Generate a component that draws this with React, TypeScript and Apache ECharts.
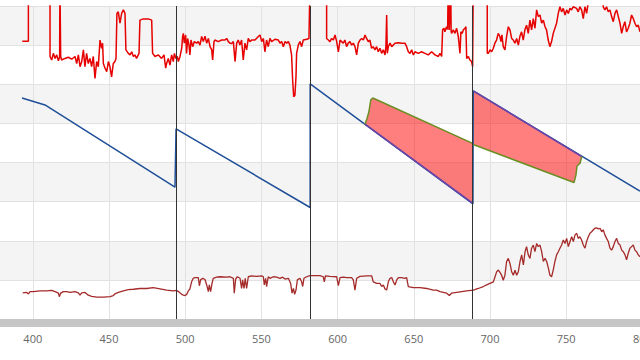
import React, { useEffect, useRef } from "react";
import * as echarts from "echarts";

const X_MIN = 350;
const X_MAX = 800;
const X_STEP = 50;
const MARKERS = [494.0, 581.9, 688.6];

const RED: number[][] = [
  [393.1,7.10],[397.1,7.10],[397.1,8.6],[411.3,8.6],[411.3,6.71],[412.4,6.62],[413.5,6.79],[414.6,6.66],[415.7,6.75],[416.8,6.60],[417.6,6.70],[417.8,8.6],[418.3,6.71],[418.9,6.62],[421.1,6.66],[423.3,6.69],[425.5,6.64],[427.7,6.71],[428.8,6.53],[429.9,6.75],[431.0,6.45],[432.1,6.58],[433.2,6.88],[434.2,6.45],[435.3,6.79],[436.4,6.53],[437.5,6.66],[438.6,6.45],[439.7,6.71],[440.8,6.15],[441.9,6.58],[443.0,6.45],[444.1,7.13],[445.2,6.92],[445.8,7.05],[446.3,6.53],[447.4,6.41],[448.5,6.32],[449.6,6.58],[450.6,6.45],[451.7,6.19],[452.8,6.53],[453.9,6.58],[454.6,6.66],[455.2,7.81],[456.1,7.85],[457.2,7.56],[458.3,7.81],[459.4,7.90],[460.5,7.81],[461.1,6.88],[462.7,6.79],[463.8,6.75],[464.9,6.83],[466.0,6.71],[467.0,6.75],[468.1,6.66],[469.7,6.79],[470.3,7.64],[472.5,7.67],[475.8,7.67],[478.0,7.64],[478.6,6.79],[480.2,6.71],[482.4,6.75],[484.5,6.66],[486.1,6.75],[487.2,6.41],[487.8,6.53],[488.9,6.66],[490.0,6.49],[491.1,6.75],[492.2,6.58],[492.9,6.79],[493.9,6.66],[494.8,6.71],[495.5,6.58],[496.6,6.71],[497.7,6.92],[498.3,7.22],[498.8,7.30],[499.4,7.05],[500.3,7.26],[500.9,6.79],[501.6,7.17],[502.5,7.00],[503.1,6.75],[503.8,7.13],[504.9,6.96],[506.0,7.09],[507.5,7.05],[508.6,7.09],[509.7,7.00],[510.8,7.22],[511.9,7.09],[513.0,7.23],[514.1,7.05],[515.2,7.17],[516.3,6.96],[517.4,6.88],[518.0,6.62],[518.9,7.09],[519.5,7.13],[521.7,7.09],[523.9,7.13],[526.1,7.13],[527.2,7.17],[528.3,7.09],[529.4,7.05],
  [530.5,7.04],[531.6,7.09],[532.7,6.58],[533.8,7.05],[534.8,7.13],[535.9,7.00],[537.0,7.13],[538.1,6.62],[539.2,7.05],[540.3,6.88],[541.4,7.17],[542.5,7.09],[543.6,7.13],[545.8,7.13],[548.0,7.22],[549.1,7.26],[550.2,7.09],[551.3,7.17],[552.3,6.83],[553.4,7.13],[554.5,6.96],[555.6,7.17],[556.7,7.09],[558.9,7.15],[561.1,7.13],[562.2,7.05],[563.3,7.09],[564.4,6.96],[565.5,7.09],[566.6,7.05],[567.7,7.09],[568.7,7.00],[569.8,6.75],[570.5,6.11],[571.2,5.68],[572.0,5.72],[572.7,6.19],[573.1,6.79],[574.2,7.00],[575.3,7.09],[576.4,6.96],[577.5,7.13],[579.7,7.15],[581.2,7.17],[581.9,8.6],[592.8,8.6],[592.8,7.17],[593.9,7.13],[595.0,7.09],[596.1,7.17],[597.2,7.13],[598.3,7.26],[599.4,7.09],[600.5,6.83],[601.6,7.13],[602.6,7.09],[603.7,7.05],[604.8,7.13],[605.9,6.96],[607.0,7.05],[608.1,7.09],[609.2,7.00],[610.3,7.05],[611.4,6.96],[612.5,6.75],[613.6,7.05],[614.7,7.13],[615.8,7.17],[616.9,7.13],[618.0,7.26],[619.0,7.17],[620.1,7.09],[621.2,7.13],[622.3,6.92],[623.4,6.96],[624.5,6.88],[625.6,6.96],[626.7,6.83],[627.8,6.92],[628.9,6.79],[630.0,6.88],[631.1,6.75],[631.7,6.96],[632.2,7.77],[632.6,6.79],[633.3,6.96],[634.4,7.05],[635.5,6.96],[636.5,7.00],[637.6,7.05],[639.8,7.06],[642.0,7.05],[644.2,7.05],[645.3,6.96],[646.4,6.83],[647.5,6.79],[648.6,6.88],[649.7,6.75],[650.8,6.83],[652.9,6.79],[655.1,6.83],[657.3,6.79],[659.5,6.75],[661.7,6.83],[663.9,6.75],[666.1,6.71],[667.2,6.79],
  [668.3,6.71],[668.9,7.39],[669.8,7.43],[670.4,7.34],[671.5,7.47],[672.2,7.40],[672.6,8.6],[673.3,7.39],[673.7,7.39],[674.2,8.6],[674.5,7.35],[674.8,7.30],[675.9,7.39],[677.0,7.30],[678.1,7.43],[679.2,7.22],[680.3,6.79],[680.9,7.34],[681.8,7.30],[682.5,7.39],[683.6,7.43],[684.2,7.47],[684.7,6.66],[685.8,6.71],[686.8,6.62],[687.9,6.58],[688.6,6.45],[689.0,8.6],[698.2,8.6],[698.2,6.79],[698.9,6.79],[700.0,6.88],[701.1,6.83],[702.2,6.92],[703.2,7.05],[704.3,7.13],[705.4,7.30],[706.5,7.22],[707.2,7.09],[707.8,7.26],[708.7,6.96],[709.8,6.88],[710.9,7.22],[712.0,7.47],[713.1,7.39],[714.2,7.17],[715.3,7.13],[716.4,7.05],[717.5,7.17],[718.6,7.00],[719.6,7.22],[720.7,7.34],[721.8,7.13],[722.9,7.39],[724.0,7.51],[725.1,7.30],[726.2,7.64],[727.3,7.39],[728.4,7.68],[729.5,7.43],[730.6,7.90],[731.7,7.73],[732.8,7.77],[733.9,7.56],[735.0,7.64],[736.1,7.47],[737.1,7.39],[738.2,7.13],[739.3,6.96],[740.4,7.09],[741.5,7.30],[742.6,7.43],[743.7,7.56],[744.8,7.81],[745.9,7.98],[747.0,7.85],[748.1,7.94],[749.2,7.77],[750.3,7.90],[751.4,7.81],[752.5,7.94],[753.5,7.90],[754.6,7.98],[756.8,7.94],[757.9,7.85],[759.0,7.98],[760.1,7.90],[761.2,7.68],[762.3,7.98],[763.4,7.81],[764.5,8.10],[765.6,8.6],[774.3,8.6],[774.3,7.98],[775.4,7.90],[776.5,7.98],[777.6,7.85],[778.7,7.90],[779.8,7.73],[780.9,7.60],[782.0,7.81],[783.1,7.90],[784.2,7.73],[785.3,7.56],[786.4,7.30],[787.4,7.47],[788.5,7.60],[789.6,7.34],[790.7,7.43],[791.8,7.56],[792.9,7.77],[794.0,7.68],[795.1,7.56],[796.2,7.47],[797.3,7.51],[798.4,7.34]
];

const BLUE: number[][] = [
  [392.9,5.65],[408.0,5.47],[493.3,3.37],[494.0,4.86],[582.0,2.85],[582.0,6.01],[688.8,2.94],[689.0,5.83],[798.4,3.27]
];

const BROWN: number[][] = [
  [393.4,0.67],[396.0,0.68],[397.1,0.64],[398.2,0.70],[400.4,0.70],[404.7,0.72],[409.1,0.72],[412.4,0.73],[414.6,0.70],[416.8,0.66],[417.4,0.57],[418.3,0.66],[420.0,0.70],[422.2,0.70],[424.4,0.68],[427.7,0.70],[429.9,0.67],[431.0,0.61],[432.1,0.67],[434.3,0.68],[436.4,0.61],[438.6,0.58],[441.9,0.56],[446.3,0.56],[450.7,0.57],[452.8,0.60],[453.9,0.64],[456.1,0.68],[459.4,0.72],[462.7,0.75],[466.0,0.76],[470.3,0.78],[474.7,0.78],[479.1,0.80],[483.5,0.77],[487.8,0.74],[492.2,0.72],[494.4,0.73],[495.5,0.70],[497.7,0.63],[498.8,0.61],[499.9,0.60],[501.0,0.63],[502.1,0.72],[503.1,0.77],[504.2,0.95],[505.3,1.04],[506.4,1.06],[508.6,1.06],[509.3,0.85],[510.1,1.00],[511.5,1.04],[513.0,1.01],[514.1,0.87],[515.2,0.70],[515.8,0.87],[516.7,0.70],[517.6,0.91],[518.4,1.04],[520.6,1.07],[522.8,1.08],[527.2,1.07],[529.4,1.08],[531.6,1.04],[532.2,0.66],[533.1,1.02],[534.2,1.08],[536.0,1.04],[537.0,0.78],[537.7,1.00],[538.6,0.78],[539.4,1.04],[540.3,0.78],[541.4,1.08],[543.6,1.10],[546.9,1.09],[550.2,1.10],[551.3,1.08],[551.9,0.87],[552.8,1.04],[553.4,0.83],[554.5,1.08],[555.6,1.04],[557.8,1.08],[560.0,1.07],[562.2,1.04],[563.9,1.07],[565.5,1.02],[567.7,1.04],[569.2,0.91],[570.1,0.66],[571.0,0.78],[571.8,0.63],[572.7,0.74],[573.6,1.00],[575.3,1.04],[576.4,0.95],[577.1,0.83],[577.9,1.04],[579.7,1.08],[581.9,1.11],[588.4,1.11],
  [590.6,1.08],[591.3,0.95],[592.0,1.10],[595.0,1.09],[599.4,1.08],[600.5,0.85],[601.6,1.06],[603.8,1.07],[606.0,1.06],[609.2,1.06],[610.3,1.00],[611.4,0.74],[612.5,1.04],[614.7,1.09],[619.1,1.10],[622.4,1.10],[623.4,0.95],[625.6,0.91],[627.8,0.91],[628.9,0.83],[630.0,0.87],[631.1,0.77],[632.2,0.74],[633.3,0.95],[634.4,1.04],[635.5,1.06],[636.6,0.95],[637.7,0.87],[638.8,1.00],[639.9,1.06],[642.0,1.06],[644.2,1.04],[645.3,1.06],[646.4,0.83],[649.7,0.80],[654.1,0.80],[658.4,0.78],[662.8,0.74],[665.0,0.74],[667.2,0.70],[669.4,0.68],[671.6,0.66],[673.3,0.60],[674.8,0.66],[678.1,0.68],[684.7,0.72],[689.1,0.74],[692.3,0.78],[695.6,0.83],[697.8,0.87],[700.0,0.91],[702.2,0.95],[703.3,1.08],[704.4,1.21],[705.5,1.25],[706.5,1.19],[707.6,1.12],[708.7,0.99],[709.8,1.12],[710.9,1.47],[712.0,1.55],[713.1,1.42],[714.2,1.21],[715.3,1.12],[716.4,1.25],[717.5,1.12],[718.6,1.21],[719.7,1.47],[720.8,1.64],[721.9,1.38],[723.0,1.72],[724.0,1.85],[725.1,1.64],[726.2,1.55],[727.3,1.81],[728.4,1.89],[729.5,1.72],[730.6,1.93],[731.7,1.85],[732.8,1.89],[733.9,1.72],[735.0,1.47],[736.1,1.55],[737.2,1.47],[738.3,1.30],[739.3,1.12],[740.4,1.08],[741.5,1.25],[742.6,1.47],[743.7,1.64],[744.8,1.72],[745.9,1.81],[747.0,1.89],[748.1,2.02],[749.2,1.93],[750.3,2.06],[751.4,1.85],[752.5,1.98],[753.6,2.10],[754.7,1.98],[755.8,2.15],[756.9,2.19],[757.9,2.06],[759.0,2.10],[760.1,2.02],[761.2,1.89],[762.3,1.81],[763.4,1.98],[764.5,2.10],[765.6,2.19],[766.7,2.23],[767.8,2.28],[768.9,2.32],[770.0,2.33],[771.1,2.30],[772.2,2.32],[773.3,2.23],[774.3,2.28],[775.4,2.15],[776.5,2.06],[777.6,1.98],[778.7,1.81],[779.8,1.76],[780.9,1.85],[782.0,1.98],[783.1,2.06],[784.2,1.93],[785.3,1.89],[786.4,1.76],[787.5,1.72],[788.6,1.64],[789.6,1.51],[790.7,1.68],[791.8,1.81],[792.9,1.85],[794.0,1.89],[795.1,1.76],[796.2,1.72],[797.3,1.64],[798.4,1.59]
];

const POLY_A: number[][] = [
  [617.9,4.98],[619.2,5.11],[620.5,5.29],[621.8,5.60],[623.1,5.65],[688.6,4.49],[688.6,2.96]
];
const POLY_A_GREEN: number[][] = [
  [617.9,4.98],[619.2,5.11],[620.5,5.29],[621.8,5.60],[623.1,5.65],[688.6,4.49]
];
const POLY_A_PURPLE: number[][] = [[617.9,4.98],[688.6,2.96]];

const POLY_B: number[][] = [
  [689.0,5.83],[760.2,4.15],[759.1,3.98],[757.1,3.91],[756.4,3.68],[755.1,3.49],[689.0,4.46]
];
const POLY_B_GREEN: number[][] = [
  [760.2,4.15],[759.1,3.98],[757.1,3.91],[756.4,3.68],[755.1,3.49],[689.0,4.46]
];
const POLY_B_PURPLE: number[][] = [[689.0,5.83],[760.2,4.15]];

function polySeries(pts: number[][]) {
  return {
    type: "custom",
    silent: true,
    z: 2,
    data: [pts[0]],
    renderItem: (_params: any, api: any) => ({
      type: "polygon",
      shape: { points: pts.map((p) => api.coord(p)) },
      style: { fill: "rgba(255,0,0,0.5)", stroke: "none" },
    }),
  };
}

function lineSeries(data: number[][], color: string, width: number, z = 3) {
  return {
    type: "line",
    data,
    symbol: "none",
    silent: true,
    z,
    lineStyle: { color, width },
  };
}

export default function App() {
  const ref = useRef<HTMLDivElement>(null);
  useEffect(() => {
    if (!ref.current) return;
    const chart = echarts.init(ref.current, undefined, { renderer: "svg" });
    chart.setOption({
      animation: false,
      backgroundColor: "#ffffff",
      grid: {
        left: -43.4,
        right: -2.4,
        top: 6,
        bottom: 41,
        containLabel: false,
        outerBoundsMode: "none",
      },
      xAxis: {
        type: "value",
        min: X_MIN,
        max: X_MAX,
        interval: X_STEP,
        axisLine: { show: false },
        axisTick: { show: false },
        axisLabel: {
          color: "#666",
          fontSize: 11,
          margin: 14,
          fontFamily: "Open Sans",
          showMinLabel: false,
        },
        splitLine: { show: true, lineStyle: { color: "#e2e2e2", width: 1 } },
      },
      yAxis: {
        type: "value",
        min: 0,
        max: 8,
        interval: 1,
        axisLine: { show: false },
        axisTick: { show: false },
        axisLabel: { show: false },
        splitLine: { show: true, lineStyle: { color: "#e2e2e2", width: 1 } },
        splitArea: { show: true, areaStyle: { color: ["#ffffff", "#f4f4f4"] } },
      },
      series: [
        polySeries(POLY_A),
        polySeries(POLY_B),
        lineSeries(BLUE, "#1f4f98", 1.5, 3),
        lineSeries(POLY_A_PURPLE, "#6e44a8", 1.5, 4),
        lineSeries(POLY_B_PURPLE, "#6e44a8", 1.5, 4),
        lineSeries(POLY_A_GREEN, "#6b8e23", 1.5, 4),
        lineSeries(POLY_B_GREEN, "#6b8e23", 1.5, 4),
        lineSeries(RED, "#e60000", 1.5, 3),
        lineSeries(BROWN, "#a52a2a", 1.3, 3),
        {
          type: "line",
          data: [],
          z: 5,
          silent: true,
          markLine: {
            silent: true,
            symbol: "none",
            label: { show: false },
            lineStyle: { color: "#333", width: 1, type: "solid" },
            data: MARKERS.map((v) => ({ xAxis: v })),
          },
        },
      ],
      graphic: [
        {
          type: "rect",
          shape: { x: 0, y: 319, width: 640, height: 8 },
          style: { fill: "#c6c6c6" },
          z: 100,
        },
      ],
    });
    return () => chart.dispose();
  }, []);
  return (
    <div
      ref={ref}
      style={{ position: "absolute", left: 0, top: 0, width: 640, height: 360 }}
    />
  );
}
